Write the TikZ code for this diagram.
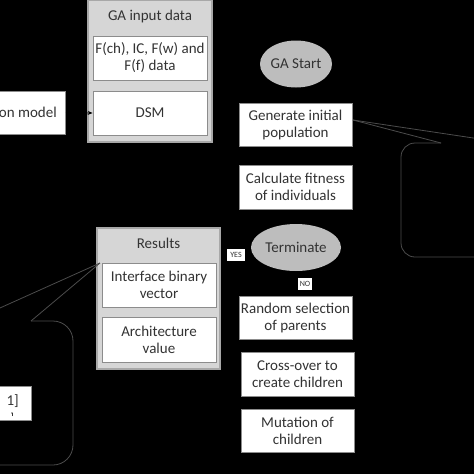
\documentclass[tikz,border=0pt]{standalone}
\usepackage{fontspec}
\setmainfont{Carlito}
\usetikzlibrary{arrows.meta,shapes.geometric}
\definecolor{txt}{HTML}{333333}
\definecolor{panelfill}{HTML}{D6D6D6}
\definecolor{paneledge}{HTML}{A8A8A8}
\definecolor{ovalfill}{HTML}{BDBDBD}
\definecolor{boxedge}{HTML}{8C8C8C}
\definecolor{calloutline}{HTML}{4C4C4C}
\tikzset{
  lbl/.style={font=\fontsize{15}{17}\selectfont, text=txt, align=center},
  panel/.style={draw=paneledge, line width=1.2pt, fill=panelfill, inner sep=0pt},
  stepbox/.style={lbl, draw=boxedge, line width=0.8pt, fill=white, inner sep=0pt},
  oval/.style={lbl, ellipse, fill=ovalfill, draw=none, inner sep=0pt},
  tag/.style={font=\fontsize{8}{9}\selectfont, text=txt, fill=white, inner sep=0pt},
  callout/.style={draw=calloutline, line width=0.8pt},
}
\begin{document}
\begin{tikzpicture}[x=1pt, y=-1pt]
  \useasboundingbox (0,0) rectangle (474,474);
  \fill[black] (0,0) rectangle (474,474);
  \clip (0,0) rectangle (474,474);

  % GA input data panel
  \node[panel, minimum width=124, minimum height=142] (gain) at (150,71) {};
  \node[lbl] (gatitle) at (150,16) {GA input data};
  \node[stepbox, minimum width=114, minimum height=44] (gadata) at (150,58)
       {F(ch), IC, F(w) and\\F(f) data};
  \node[stepbox, minimum width=114, minimum height=44] (dsm) at (150,113) {DSM};

  % model box entering from the left
  \node[stepbox, anchor=east, minimum width=126, minimum height=43] (model) at (66,112.5) {};
  \node[lbl, anchor=east, inner sep=0pt] (modeltext) at (57,112.5) {on model};
  \draw[-{Stealth[length=5pt,width=4pt]}, black, line width=0.8pt] (model.east) -- (dsm.west);

  % GA flow
  \node[oval, minimum width=72, minimum height=47] (start) at (296,64) {GA Start};
  \node[stepbox, minimum width=113, minimum height=43] (gen) at (295.5,124.5)
       {Generate initial\\population};
  \node[stepbox, minimum width=113, minimum height=44] (fit) at (295.5,187)
       {Calculate fitness\\of individuals};
  \node[oval, minimum width=90, minimum height=47] (term) at (296,247.5) {Terminate};
  \node[tag, minimum width=18, minimum height=12] (yes) at (236,255) {YES};
  \node[tag, minimum width=14, minimum height=12] (no) at (305,284) {NO};
  \node[stepbox, minimum width=113, minimum height=43] (sel) at (295.5,317.5)
       {Random selection\\of parents};
  \node[stepbox, minimum width=113, minimum height=44] (cross) at (297.5,374)
       {Cross-over to\\create children};
  \node[stepbox, minimum width=113, minimum height=43] (mut) at (297.5,430.5)
       {Mutation of\\children};

  % Results panel
  \node[panel, minimum width=123, minimum height=141] (res) at (158.5,298.5) {};
  \node[lbl] (restitle) at (158.5,243) {Results};
  \node[stepbox, minimum width=114, minimum height=44] (ibv) at (159,285)
       {Interface binary\\vector};
  \node[stepbox, minimum width=114, minimum height=45] (arch) at (159,339.5)
       {Architecture\\value};

  % box at the lower left
  \node[stepbox, anchor=east, minimum width=70, minimum height=34] (vec) at (32,403) {};
  \node[lbl, anchor=east, inner sep=0pt] (vectext) at (19,401) {1]};
  \coordinate (vtick) at (12,416);
  \draw[txt, line width=0.5pt, -{Stealth[length=1.5pt,width=1.5pt]}] (vtick) -- ++(0,-4);

  % callout pointing at the interface vector
  \coordinate (ltip) at (100,263);
  \draw[callout] (ltip) -- (-29,321);
  \draw[callout] (ltip) -- (31,321);
  \draw[callout, rounded corners=20] (31,321) -- (73,321) -- (73,465) -- (-40,465);

  % callout pointing at the initial population
  \coordinate (rtip) at (353,120);
  \draw[callout] (rtip) -- (500,142);
  \draw[callout] (rtip) -- (441,143);
  \draw[callout, rounded corners=14] (441,143) -- (401,143) -- (401,257) -- (500,257);
\end{tikzpicture}
\end{document}
